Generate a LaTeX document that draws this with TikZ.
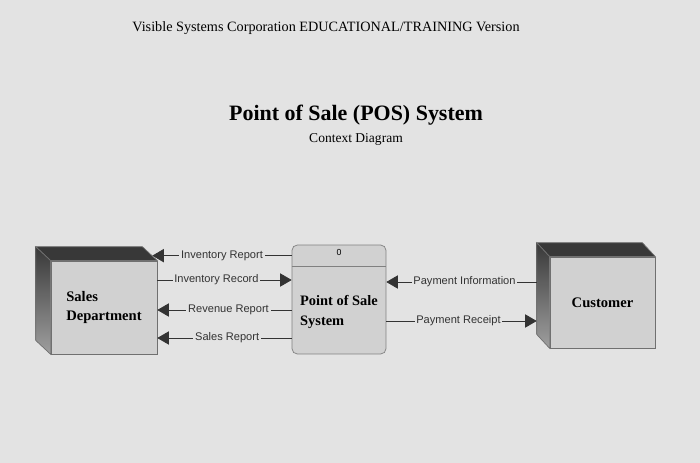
\documentclass[tikz,border=0pt]{standalone}
\usepackage{fontspec}
\setmainfont{Liberation Serif}
\setsansfont{Liberation Sans}
\usetikzlibrary{arrows.meta,positioning,calc}
\definecolor{paper}{gray}{0.89}
\definecolor{face}{gray}{0.82}
\definecolor{side}{gray}{0.22}
\definecolor{ink}{gray}{0.2}
\tikzset{
entity/.style = {draw=ink!70, fill=face, rectangle, minimum width=2.12cm, minimum height=1.86cm, inner sep=0pt, align=left, font=\fontsize{8.3}{11.3}\selectfont\bfseries},
process/.style = {draw=gray, fill=face, rectangle, rounded corners=3pt, minimum width=1.88cm, minimum height=2.18cm},
sidewall/.style = {draw=ink!70, top color=side, bottom color=gray!75},
flow/.style = {draw=ink, thin, -{Triangle[length=6.5pt,width=7.5pt]}},
flowlabel/.style = {fill=paper, inner sep=1pt, text=ink, font=\sffamily\fontsize{6.3}{7}\selectfont}
}

\begin{document}
\begin{tikzpicture}[x=0.02cm, y=-0.02cm]
		\fill[paper] (0,0) rectangle (700,463);
		\useasboundingbox (0,0) rectangle (700,463);

		% headings
		\node [font=\fontsize{8.1}{9}\selectfont] (banner) at (326,28) {Visible Systems Corporation EDUCATIONAL/TRAINING Version};
		\node [font=\fontsize{12.5}{14}\selectfont\bfseries] (title) at (356,115) {Point of Sale (POS) System};
		\node [font=\fontsize{7.7}{9}\selectfont] (subtitle) at (356,139) {Context Diagram};

		% external entities
		\node [entity] (sales) at (104,307.5) {Sales\\Department};
		\fill [side, draw=ink!70] (sales.north west) -- ++(-15,-14) -- ($(sales.north east)+(-15,-14)$) -- (sales.north east) -- cycle;
		\shade [sidewall] (sales.north west) -- ++(-15,-14) -- ($(sales.south west)+(-15,-14)$) -- (sales.south west) -- cycle;

		\node [entity, minimum width=2.1cm, minimum height=1.82cm] (cust) at (602.5,302.5) {Customer};
		\fill [side, draw=ink!70] (cust.north west) -- ++(-13,-14) -- ($(cust.north east)+(-13,-14)$) -- (cust.north east) -- cycle;
		\shade [sidewall] (cust.north west) -- ++(-13,-14) -- ($(cust.south west)+(-13,-14)$) -- (cust.south west) -- cycle;
		\coordinate (cust-back) at ($(cust.north west)+(-13,-14)$);

		% process
		\node [process] (pos) at (339,299.5) {};
		\draw [gray] ($(pos.north west)+(0,22)$) -- ($(pos.north east)+(0,22)$);
		\node [font=\sffamily\fontsize{5}{6}\selectfont] (pos-num) at ($(pos.north)+(0,8)$) {0};
		\node [align=left, font=\fontsize{8.2}{11.3}\selectfont\bfseries] (pos-name) at ($(pos.north)+(0,67)$) {Point of Sale\\System};

		% data flows
		\coordinate (sales-corner) at ($(sales.north east)+(-5,-5)$);
		\draw [flow] (pos.west |- sales-corner) -- node [flowlabel, pos=0.5] {Inventory Report} (sales-corner);
		\draw [flow] ([yshift=0.55cm]sales.east) -- node [flowlabel, pos=0.44] {Inventory Record} ([yshift=0.55cm]sales.east -| pos.west);
		\draw [flow] ([yshift=-0.05cm]sales.east -| pos.west) -- node [flowlabel, pos=0.47] {Revenue Report} ([yshift=-0.05cm]sales.east);
		\draw [flow] ([yshift=-0.61cm]sales.east -| pos.west) -- node [flowlabel, pos=0.48] {Sales Report} ([yshift=-0.61cm]sales.east);

		\draw [flow] ([yshift=0.35cm]pos.east -| cust-back) -- node [flowlabel, pos=0.48] {Payment Information} ([yshift=0.35cm]pos.east);
		\draw [flow] ([yshift=-0.43cm]pos.east) -- node [flowlabel, pos=0.48] {Payment Receipt} ([yshift=-0.43cm]pos.east -| cust-back);
\end{tikzpicture}
\end{document}
